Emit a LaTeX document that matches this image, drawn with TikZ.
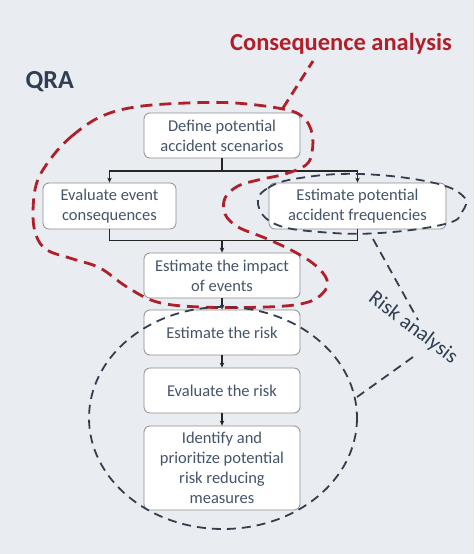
\documentclass[tikz,border=0pt]{standalone}
\usepackage{fontspec}
\setmainfont{Carlito}
\usetikzlibrary{arrows.meta}
\definecolor{bgc}{HTML}{E9EDF2}
\definecolor{txt}{HTML}{44546A}
\definecolor{navy}{HTML}{2F3E52}
\definecolor{redc}{HTML}{B0202B}
\definecolor{dash}{HTML}{333F4F}
\tikzset{
  stepbox/.style={draw=black!45, line width=0.8pt, fill=white, rounded corners=6pt,
    text=txt, font=\fontsize{16.5}{20}\selectfont, align=center, inner sep=0pt,
    minimum width=156pt, minimum height=45pt},
  conn/.style={line width=1.4pt, black!85},
  arr/.style={conn, -{Stealth[length=5pt,width=4.5pt]}},
  reddash/.style={draw=redc, line width=2.8pt, dash pattern=on 12pt off 7pt},
  darkdash/.style={draw=dash, line width=1.8pt, dash pattern=on 9pt off 6pt},
}
\begin{document}
\begin{tikzpicture}[x=1pt,y=-1pt]
\fill[bgc] (0,0) rectangle (474,554);
\useasboundingbox (0,0) rectangle (474,554);

% boxes
\node[stepbox] (def) at (222,135.5) {Define potential\\accident scenarios};
\node[stepbox, minimum width=133pt, minimum height=46pt] (cons) at (109.5,206) {Evaluate event\\consequences};
\node[stepbox, minimum width=177pt, minimum height=46pt] (freq) at (357.5,206) {Estimate potential\\accident frequencies};
\node[stepbox] (imp) at (222,275.5) {Estimate the impact\\of events};
\node[stepbox] (risk) at (222,332.5) {Estimate the risk};
\node[stepbox] (evr) at (222,390.5) {Evaluate the risk};
\node[stepbox, minimum height=84pt] (idf) at (222,468) {Identify and\\prioritize potential\\risk reducing\\measures};

% connectors
\coordinate (t1) at (222,171);
\coordinate (t2) at (222,240.5);
\draw[conn] (def.south) -- (t1);
\draw[arr] (t1) -| (cons.north);
\draw[arr] (t1) -| (freq.north);
\draw[conn] (cons.south) |- (t2);
\draw[conn] (freq.south) |- (t2);
\draw[arr] (t2) -- (imp.north);
\draw[arr] (imp.south) -- (risk.north);
\draw[arr] (risk.south) -- (evr.north);
\draw[arr] (evr.south) -- (idf.north);

% consequence analysis blob
\draw[reddash] plot[smooth cycle, tension=0.6] coordinates {
 (52,157) (72,136) (100,117) (135,107) (187,103) (235,103) (283,109) (303,117)
 (312,133) (312,152) (306,165) (285,174) (258,180) (238,186) (225,198) (225,214)
 (238,227) (265,238) (293,251) (315,265) (327,280) (323,293) (305,303) (267,307)
 (200,307) (157,302) (127,287) (100,268) (73,259) (47,250) (36,235) (33,212) (37,182)};
\coordinate (ctop) at (283,108);
\coordinate (clab) at (313,61);
\draw[reddash, dash pattern=on 10pt off 6pt] (ctop) -- (clab);

% frequency ellipse
\draw[darkdash] plot[smooth cycle, tension=0.7] coordinates {
 (258,204) (268,188) (300,178) (360,174) (430,182) (463,196) (462,212) (445,224)
 (380,233) (320,232) (275,224)};

% risk ellipse
\draw[darkdash] (223,418) ellipse [x radius=134, y radius=111];

% risk analysis leaders
\coordinate (fa) at (373,239);
\coordinate (fb) at (418,320);
\coordinate (ra) at (413,357);
\coordinate (rb) at (357,397);
\draw[darkdash] (fa) -- (fb);
\draw[darkdash] (ra) -- (rb);

% labels
\node[text=navy, font=\fontsize{26}{26}\bfseries\selectfont, anchor=west] (qra) at (22,82) {QRA};
\node[text=redc, font=\fontsize{24.5}{24.5}\bfseries\selectfont] (calab) at (341,44) {Consequence analysis};
\node[text=navy, font=\fontsize{21}{21}\selectfont, rotate=-37] (ralab) at (413,328) {Risk analysis};
\end{tikzpicture}
\end{document}
